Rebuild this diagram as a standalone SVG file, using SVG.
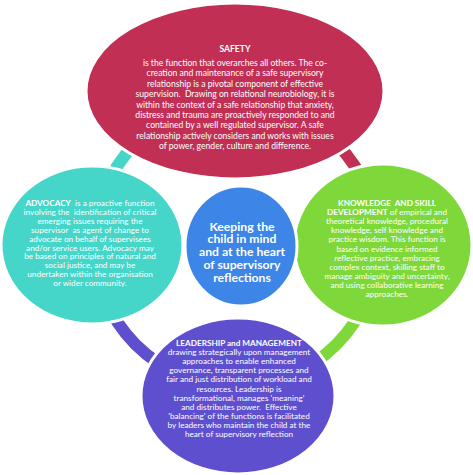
<svg xmlns="http://www.w3.org/2000/svg" width="473" height="475" viewBox="0 0 473 475">
<style>
.t{font-family:Lato,"Liberation Sans",sans-serif;fill:#fff;text-anchor:middle;font-size:8.2px;white-space:pre}
.s{font-size:8.6px}
.b{font-weight:bold}
.c{font-family:Lato,"Liberation Sans",sans-serif;fill:#fff;text-anchor:middle;font-size:12.2px;font-weight:bold}
.n{stroke:#fff;stroke-width:3}
.arc{fill:none;stroke-width:12}
</style>
<rect width="473" height="475" fill="#fff"/>
<g id="connectors">
<path class="arc" stroke="#C12F55" d="M236,102 A142,142 0 0 1 378,244"/>
<path class="arc" stroke="#7ED83A" d="M378,244 A142,142 0 0 1 236,386"/>
<path class="arc" stroke="#5E4FCF" d="M236,386 A142,142 0 0 1 94,244"/>
<path class="arc" stroke="#45D6C9" d="M94,244 A142,142 0 0 1 236,102"/>
</g>
<g id="safety">
<ellipse class="n" cx="235" cy="91" rx="149" ry="88" fill="#C12F55"/>
<text class="t s b" x="235" y="52">SAFETY</text>
<text class="t s" x="235" y="66">is the function that overarches all others. The co-</text>
<text class="t s" x="235" y="76.4">creation and maintenance of a safe supervisory</text>
<text class="t s" x="235" y="86.8">relationship is a pivotal component of effective</text>
<text class="t s" x="235" y="97.2">supervision.  Drawing on relational neurobiology, it is</text>
<text class="t s" x="235" y="107.6">within the context of a safe relationship that anxiety,</text>
<text class="t s" x="235" y="118">distress and trauma are proactively responded to and</text>
<text class="t s" x="235" y="128.4">contained by a well regulated supervisor. A safe</text>
<text class="t s" x="235" y="138.8">relationship actively considers and works with issues</text>
<text class="t s" x="235" y="149.2">of power, gender, culture and difference.</text>
</g>
<g id="advocacy">
<ellipse class="n" cx="92" cy="245" rx="91" ry="79" fill="#45D6C9"/>
<text class="t" x="90" y="206"><tspan class="b">ADVOCACY</tspan>  is a proactive function</text>
<text class="t" x="90" y="214.9">involving the  identification of critical</text>
<text class="t" x="90" y="223.8">emerging issues requiring the</text>
<text class="t" x="90" y="232.7">supervisor  as agent of change to</text>
<text class="t" x="90" y="241.6">advocate on behalf of supervisees</text>
<text class="t" x="90" y="250.5">and/or service users. Advocacy may</text>
<text class="t" x="90" y="259.4">be based on principles of natural and</text>
<text class="t" x="90" y="268.3">social justice, and may be</text>
<text class="t" x="90" y="277.2">undertaken within the organisation</text>
<text class="t" x="90" y="286.1">or wider community.</text>
</g>
<g id="knowledge">
<ellipse class="n" cx="383" cy="245" rx="89" ry="81" fill="#7ED83A"/>
<text class="t b" x="387" y="206">KNOWLEDGE  AND SKILL</text>
<text class="t" x="387" y="215.1"><tspan class="b">DEVELOPMENT</tspan> of empirical and</text>
<text class="t" x="387" y="224.2">theoretical knowledge, procedural</text>
<text class="t" x="387" y="233.3">knowledge, self knowledge and</text>
<text class="t" x="387" y="242.4">practice wisdom. This function is</text>
<text class="t" x="387" y="251.5">based on evidence informed</text>
<text class="t" x="387" y="260.6">reflective practice, embracing</text>
<text class="t" x="387" y="269.7">complex context, skilling staff to</text>
<text class="t" x="387" y="278.8">manage ambiguity and uncertainty,</text>
<text class="t" x="387" y="287.9">and using collaborative learning</text>
<text class="t" x="387" y="297">approaches.</text>
</g>
<g id="leadership">
<ellipse class="n" cx="238" cy="396" rx="97" ry="78" fill="#5E4FCF"/>
<text class="t b" x="239" y="346">LEADERSHIP and MANAGEMENT</text>
<text class="t" x="239" y="355.1">drawing strategically upon management</text>
<text class="t" x="239" y="364.2">approaches to enable enhanced</text>
<text class="t" x="239" y="373.3">governance, transparent processes and</text>
<text class="t" x="239" y="382.4">fair and just distribution of workload and</text>
<text class="t" x="239" y="391.5">resources. Leadership is</text>
<text class="t" x="239" y="400.6">transformational, manages 'meaning'</text>
<text class="t" x="239" y="409.7">and distributes power.  Effective</text>
<text class="t" x="239" y="418.8">'balancing' of the functions is facilitated</text>
<text class="t" x="239" y="427.9">by leaders who maintain the child at the</text>
<text class="t" x="239" y="437">heart of supervisory reflection</text>
</g>
<g id="centre">
<ellipse class="n" cx="241" cy="246" rx="56" ry="60" fill="#3D86E8"/>
<text class="c" x="242" y="230.5">Keeping the</text>
<text class="c" x="242" y="243.3">child in mind</text>
<text class="c" x="242" y="256.1">and at the heart</text>
<text class="c" x="242" y="268.9">of supervisory</text>
<text class="c" x="242" y="281.7">reflections</text>
</g>
</svg>
